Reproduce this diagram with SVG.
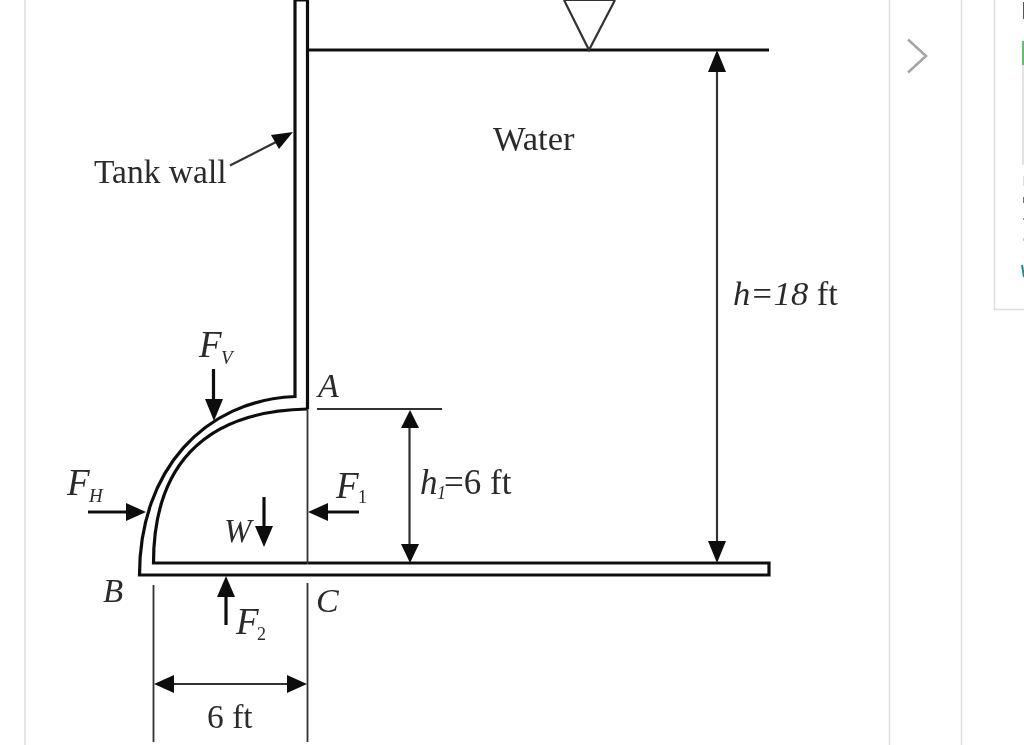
<svg xmlns="http://www.w3.org/2000/svg" width="1024" height="745" viewBox="0 0 1024 745">
<defs><filter id="soft" x="-5%" y="-5%" width="110%" height="110%"><feGaussianBlur stdDeviation="0.5"/></filter></defs>
<style>
.s{filter:url(#soft)}
.w{fill:none;stroke:#111;stroke-width:3.2}
.m{fill:none;stroke:#111;stroke-width:3}
.t{fill:none;stroke:#333;stroke-width:1.8}
.d{fill:none;stroke:#333;stroke-width:2.2}
.f{fill:none;stroke:#111;stroke-width:3.2}
.h{fill:#111;stroke:none}
.ui{fill:none;stroke:#dedede;stroke-width:1.5}
text{font-family:"Liberation Serif","Times New Roman",serif;fill:#2a2a2a}
.i{font-style:italic}
</style>
<rect width="1024" height="745" fill="#fff"/>
<g id="page-frame">
<path class="ui" d="M25 0V745M889.500 0V745M961.500 0V745M994.500 0V309.500H1024"/>
<path d="M908 39.500L926 56L908 72.500" fill="none" stroke="#a5a5a5" stroke-width="2.600"/>
<rect x="1022" y="41" width="2" height="24" fill="#5ec26a"/>
<rect x="1022" y="65" width="2" height="100" fill="#e4e4e4"/>
<rect x="1023" y="2" width="1" height="17" fill="#555"/>
<rect x="1023" y="176" width="1" height="10" fill="#ddd"/>
<rect x="1023" y="197" width="1" height="6" fill="#777"/>
<rect x="1023" y="218" width="1" height="2" fill="#888"/>
<rect x="1023" y="238" width="1" height="3" fill="#ccc"/>
<path d="M1022 265L1024 277" stroke="#1b8a96" stroke-width="2" fill="none"/>
</g>
<g id="tank-wall" class="s">
<path class="w" d="M307.500 409V0H295V396.500C205 400 139.500 470 139.500 575H769V563H307.500"/>
<path class="w" d="M307.500 409C200 411 153.500 470 153.500 563H307.500"/>
</g>
<g id="water-surface" class="s">
<path class="m" d="M307.500 50H769"/>
<path class="d" d="M564 0L589 50L615 0M564 0H615"/>
</g>
<g id="connectors" class="s">
<path class="t" d="M307.500 409V563M317 409H442M153.500 585V742M307.500 583V742"/>
<path class="d" d="M717 66V548M409.500 425V548M170 684H292"/>
<path class="h" d="M717 50L708 72H726ZM717 563L708 541H726ZM410 410L401 428H419ZM410 563L401 544H419ZM154 684L174 675V693ZM307 684L287 675V693Z"/>
<path class="d" d="M230 165.500L280 140"/>
<path class="h" d="M293 132L271 135L279 149Z"/>
<path class="f" d="M213.500 369V405"/>
<path class="h" d="M214 421L205 399H223Z"/>
<path class="f" d="M88 512H130"/>
<path class="h" d="M146 512L126 503V521Z"/>
<path class="f" d="M359 512H320"/>
<path class="h" d="M308 512L328 503V521Z"/>
<path class="f" d="M264 497V532"/>
<path class="h" d="M264 547L255 526H273Z"/>
<path class="f" d="M226 625V592"/>
<path class="h" d="M226 576L217 597H235Z"/>
</g>
<g id="labels" class="s">
<text x="94" y="183" font-size="33.500">Tank wall</text>
<text x="493" y="150" font-size="34.500">Water</text>
<text x="733" y="305" font-size="34.600"><tspan class="i">h=18</tspan> ft</text>
<text x="199" y="357" font-size="37" class="i">F</text>
<text x="221" y="364" font-size="19" class="i">V</text>
<text x="318" y="397" font-size="34" class="i">A</text>
<text x="67" y="495" font-size="37" class="i">F</text>
<text x="89" y="502" font-size="19" class="i">H</text>
<text x="336" y="498" font-size="37" class="i">F</text>
<text x="358" y="503" font-size="18">1</text>
<text x="420" y="494" font-size="35" class="i">h</text>
<text x="437" y="499" font-size="18" class="i">1</text>
<text x="444" y="494" font-size="35">=6 ft</text>
<text x="224" y="542" font-size="33" class="i">W</text>
<text x="103" y="602" font-size="33" class="i">B</text>
<text x="316" y="612" font-size="34" class="i">C</text>
<text x="236" y="634" font-size="37" class="i">F</text>
<text x="257" y="640" font-size="18">2</text>
<text x="207" y="728" font-size="33.500">6 ft</text>
</g>
</svg>
